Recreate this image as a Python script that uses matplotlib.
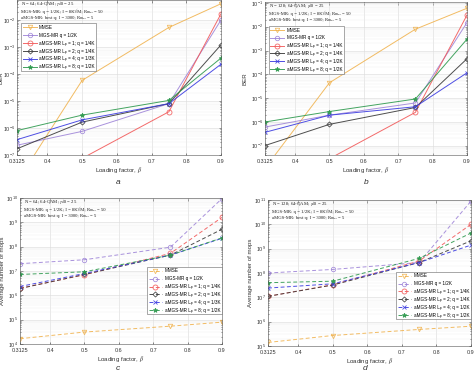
import numpy as np
import matplotlib
matplotlib.use("Agg")
import matplotlib.pyplot as plt
from matplotlib.ticker import LogLocator, FixedLocator, NullFormatter
from matplotlib.patches import Rectangle

plt.rcParams['font.family'] = ['Liberation Sans', 'DejaVu Sans']
plt.rcParams['mathtext.fontset'] = 'stix'

# ---------------- data ----------------
beta = [0.3125, 0.5, 0.75, 0.9]
xticks = [0.3125, 0.4, 0.5, 0.6, 0.7, 0.8, 0.9]
xticklabels = ['0.3125', '0.4', '0.5', '0.6', '0.7', '0.8', '0.9']

labels = ['MMSE', 'MGS-MR q = 1/2K',
          'aMGS-MR L\u209a = 1; q = 1/4K',
          'aMGS-MR L\u209a = 2; q = 1/4K',
          'aMGS-MR L\u209a = 4; q = 1/3K',
          'aMGS-MR L\u209a = 8; q = 1/2K']
labels_b = labels[:4] + ['aMGS-MR L\u209a = 4; q = 1/2K', labels[5]]

# panel a: BER, N = 64
ber64_mmse = [1.0e-8, 5.8e-5, 5.3e-3, 4.0e-2]
ber64_mgs = [2.3e-7, 7.5e-7, 8.0e-6, 1.0e-2]
ber64_l1 = [1.0e-9, 7.5e-8, 4.0e-6, 1.7e-2]
ber64_l2 = [1.7e-7, 1.65e-6, 8.0e-6, 1.2e-3]
ber64_l4 = [3.7e-7, 2.0e-6, 8.0e-6, 2.3e-4]
ber64_l8 = [8.0e-7, 3.0e-6, 1.05e-5, 3.9e-4]

# panel b: BER, N = 128
ber128_mmse = [1.1e-8, 4.4e-5, 7.9e-3, 6.0e-2]
ber128_mgs = [6.0e-7, 1.9e-6, 6.2e-6, 1.5e-2]
ber128_l1 = [1.0e-9, 2.8e-8, 2.5e-6, 3.1e-2]
ber128_l2 = [1.0e-7, 7.8e-7, 4.0e-6, 4.5e-4]
ber128_l4 = [3.6e-7, 1.9e-6, 4.3e-6, 1.15e-4]
ber128_l8 = [9.8e-7, 2.7e-6, 9.1e-6, 3.0e-3]

# panel c: average number of mops, N = 64
ops64_mmse = [1.65e4, 3.1e4, 5.4e4, 7.9e4]
ops64_mgs = [2.0e7, 2.9e7, 9.5e7, 9.5e9]
ops64_l1 = [1.95e6, 7.0e6, 5.3e7, 1.6e9]
ops64_l2 = [1.9e6, 7.2e6, 4.5e7, 5.2e8]
ops64_l4 = [2.3e6, 7.9e6, 4.5e7, 2.2e8]
ops64_l8 = [7.2e6, 9.3e6, 4.5e7, 2.3e8]

# panel d: average number of mops, N = 128
ops128_mmse = [1.4e5, 2.7e5, 4.8e5, 6.5e5]
ops128_mgs = [1.0e8, 1.4e8, 2.7e8, 9.0e10]
ops128_l1 = [1.1e7, 3.3e7, 3.1e8, 1.0e10]
ops128_l2 = [1.1e7, 3.2e7, 2.7e8, 2.1e9]
ops128_l4 = [2.4e7, 3.6e7, 2.7e8, 1.4e9]
ops128_l8 = [4.0e7, 4.6e7, 4.0e8, 4.4e9]

info64 = ['N = 64; 64-QAM; $\\gamma_{\\rm dB}$ = 25',
          'MGS-MR: q = 1/2K; I = 8K\u221aM; R\u2098\u2090\u2093 = 50',
          'aMGS-MR: best q; I = 3000; R\u2098\u2090\u2093 = 5']
info128 = ['N = 128; 64-QAM; $\\gamma_{\\rm dB}$ = 25'] + info64[1:]

colors = ['#F0B048', '#9A7FD6', '#F25A5A', '#3A3A3A', '#3B3BE0', '#2F9A4F']
markers = ['v', 'o', 'o', 'D', 'x', '*']
msizes = [3.2, 3.2, 3.6, 2.6, 3.0, 3.4]

W, H = 474, 375
fig = plt.figure(figsize=(W / 100, H / 100), dpi=100)


def rect(x0, y0, x1, y1):
    return [x0 / W, 1 - y1 / H, (x1 - x0) / W, (y1 - y0) / H]


def panel(r, series, labs, ylim, ls, ylabel, info, leg_loc, leg_anchor, cap, cap_xy, ylab_x):
    ax = fig.add_axes(rect(*r))
    axh = r[3] - r[1]
    axw = r[2] - r[0]
    handles = []
    for i, s in enumerate(series):
        fill = colors[i] if markers[i] == '*' else 'none'
        h, = ax.plot(beta, s, ls=ls, color=colors[i], lw=0.7, marker=markers[i],
                     ms=msizes[i], mfc=fill, mec=colors[i], mew=0.6,
                     alpha=0.85 if i < 2 else 0.9, label=labs[i],
                     dashes=(4, 2.5) if ls == '--' else (None, None))
        handles.append(h)
    ax.set_yscale('log')
    ax.set_xlim(0.3125, 0.9)
    ax.set_ylim(*ylim)
    ax.xaxis.set_major_locator(FixedLocator(xticks))
    ax.set_xticklabels(xticklabels)
    ax.yaxis.set_major_locator(LogLocator(base=10, numticks=20))
    ax.yaxis.set_minor_locator(LogLocator(base=10, subs=np.arange(2, 10), numticks=20))
    ax.yaxis.set_minor_formatter(NullFormatter())
    ax.tick_params(which='both', direction='in', labelsize=3.9, pad=1.5,
                   length=1.8, width=0.4, colors='#333333', top=True, right=True)
    ax.tick_params(axis='x', pad=2.6)
    ax.tick_params(which='minor', length=1.0)
    ax.grid(True, which='major', color='#d8d8d8', lw=0.4)
    ax.grid(True, which='minor', axis='y', color='#ececec', lw=0.3)
    for sp in ax.spines.values():
        sp.set_linewidth(0.4)
        sp.set_color('#555555')
    ax.set_xlabel('Loading factor, $\\beta$', fontsize=4.4, labelpad=1.0, color='#333333')
    ax.set_ylabel(ylabel, fontsize=4.4, labelpad=1, color='#333333')
    ax.yaxis.set_label_coords(ylab_x, 0.5)
    # white patch behind the info text
    ax.add_patch(Rectangle((0.01, 1 - 21.5 / axh), 108 / axw, 20.5 / axh,
                           transform=ax.transAxes, facecolor='white',
                           edgecolor='none', zorder=1.5))
    for k, line in enumerate(info):
        off = 4.3 + 7.0 * k
        ax.text(0.018, 1 - off / axh, line, transform=ax.transAxes, va='center', ha='left',
                family=['Liberation Serif', 'DejaVu Serif', 'DejaVu Sans'], fontsize=3.4,
                color='#222222', zorder=3)
    leg = ax.legend(handles=handles, loc=leg_loc, bbox_to_anchor=leg_anchor,
                    fontsize=3.3, handlelength=3.0, handletextpad=0.5,
                    borderpad=0.4, labelspacing=0.62, fancybox=False,
                    framealpha=1, edgecolor='#666666', borderaxespad=0)
    leg.get_frame().set_linewidth(0.4)
    fig.text(cap_xy[0] / W, 1 - cap_xy[1] / H, cap, fontsize=6, style='italic',
             ha='center', va='center', color='#333333')
    return ax


panel((17, 0, 221, 155),
      [ber64_mmse, ber64_mgs, ber64_l1, ber64_l2, ber64_l4, ber64_l8], labels,
      (1e-7, 5.5e-2), '-', 'BER', info64, 'upper left', (0.02, 0.85),
      'a', (118, 182), -0.065)

panel((265, 2, 467, 155),
      [ber128_mmse, ber128_mgs, ber128_l1, ber128_l2, ber128_l4, ber128_l8], labels_b,
      (4e-8, 1.1e-1), '-', 'BER', info128, 'upper left', (0.018, 0.845),
      'b', (366, 182), -0.085)

panel((20, 198, 222, 344),
      [ops64_mmse, ops64_mgs, ops64_l1, ops64_l2, ops64_l4, ops64_l8], labels,
      (1e4, 1e10), '--', 'Average number of mops', info64, 'upper right', (1.0, 0.53),
      'c', (118, 368), -0.075)

panel((268, 200, 471, 346),
      [ops128_mmse, ops128_mgs, ops128_l1, ops128_l2, ops128_l4, ops128_l8], labels_b,
      (1e5, 1e11), '--', 'Average number of mops', info128, 'upper right', (1.0, 0.51),
      'd', (365, 368), -0.075)

fig.savefig('out.png', dpi=100)
